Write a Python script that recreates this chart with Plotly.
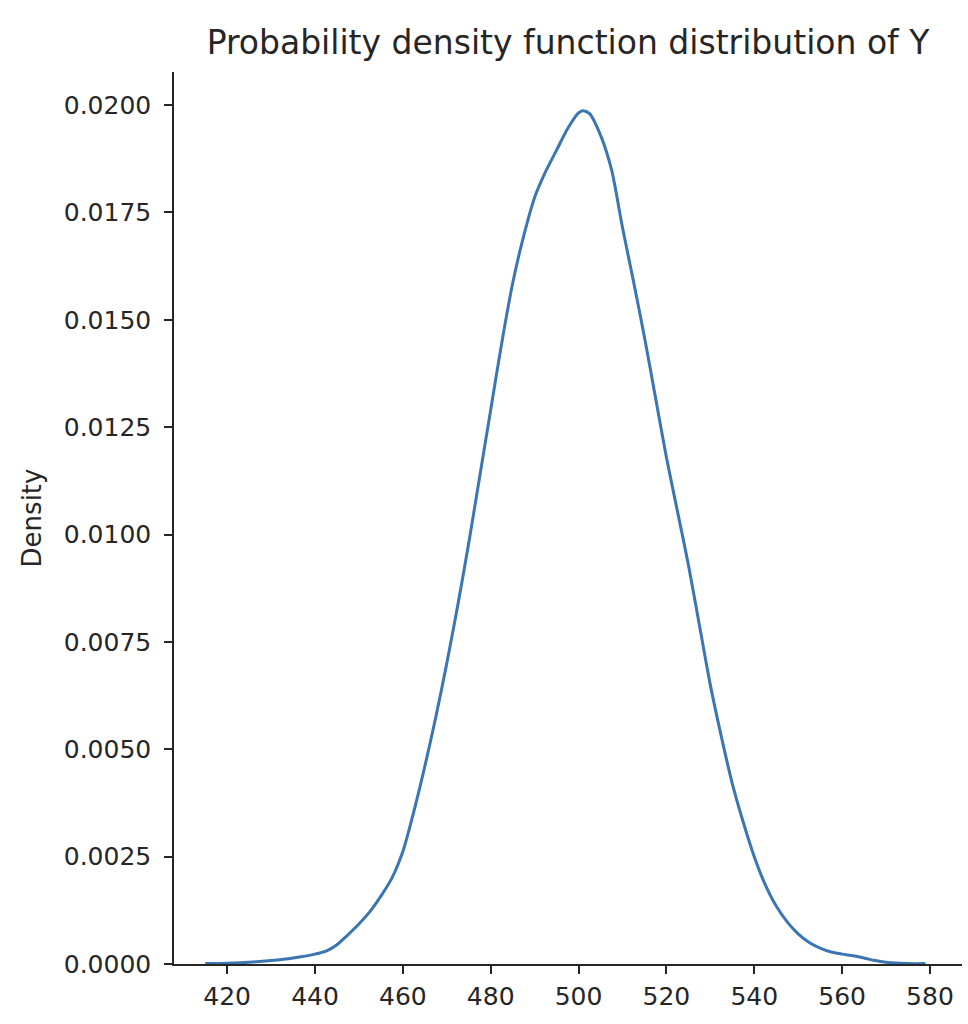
import plotly.graph_objects as go

# KDE curve values
x_vals = [415.0, 420.0, 425.0, 430.0, 435.0, 440.0, 442.5, 445.0, 447.5, 450.0, 452.5, 455.0,
          457.5, 460.0, 462.5, 465.0, 467.5, 470.0, 472.5, 475.0, 477.5, 480.0, 482.5,
          485.0, 487.5, 490.0, 492.5, 495.0, 497.5, 500.0, 501.0, 502.5, 505.0, 507.5,
          510.0, 512.5, 515.0, 517.5, 520.0, 522.5, 525.0, 527.5, 530.0, 532.5, 535.0,
          537.5, 540.0, 542.5, 545.0, 547.5, 550.0, 552.5, 555.0, 557.5, 560.0, 562.5,
          565.0, 567.5, 570.0, 575.0, 579.0]
y_vals = [0.00001, 0.00002, 0.00004, 0.00008, 0.00014, 0.00023, 0.00030, 0.00045, 0.00068,
          0.00093, 0.00122, 0.00158, 0.00200, 0.00262, 0.00355, 0.00460, 0.00575, 0.00700,
          0.00835, 0.00980, 0.01135, 0.01290, 0.01445, 0.01585, 0.01695, 0.01785, 0.01845,
          0.01895, 0.01945, 0.01982, 0.01987, 0.01980, 0.01930, 0.01850, 0.01715, 0.01590,
          0.01460, 0.01320, 0.01180, 0.01055, 0.00930, 0.00790, 0.00650, 0.00530, 0.00420,
          0.00330, 0.00250, 0.00185, 0.00135, 0.00098, 0.00070, 0.00050, 0.00037, 0.00028,
          0.00023, 0.00019, 0.00014, 0.00008, 0.00004, 0.00001, 0.00001]

x_ticks = [420, 440, 460, 480, 500, 520, 540, 560, 580]
y_ticks = [0.0, 0.0025, 0.0050, 0.0075, 0.0100, 0.0125, 0.0150, 0.0175, 0.0200]
y_tick_text = ["0.0000", "0.0025", "0.0050", "0.0075", "0.0100", "0.0125", "0.0150", "0.0175", "0.0200"]

title_text = "Probability density function distribution of Y"
y_title = "Density"

fig = go.Figure()
fig.add_trace(go.Scatter(x=x_vals, y=y_vals, mode="lines",
                         line=dict(color="#3b75b2", width=3, shape="spline", smoothing=0.8),
                         showlegend=False, hoverinfo="skip"))

font_family = "DejaVu Sans, sans-serif"
fig.update_layout(
    width=968, height=1024,
    margin=dict(l=174, r=6, t=72, b=60),
    paper_bgcolor="white", plot_bgcolor="white",
    font=dict(family=font_family, size=25, color="#262626"),
    title=dict(text=title_text, x=(174 + 962) / 2 / 968, xanchor="center",
               y=1 - 42 / 1024, yanchor="middle",
               font=dict(size=33, color="#262626", family=font_family)),
)
fig.update_xaxes(range=[407.9, 587.3], tickvals=x_ticks, ticks="outside", ticklen=8,
                 tickwidth=1.5, tickcolor="#262626", showline=True, linecolor="#262626",
                 linewidth=1.5, showgrid=False, zeroline=False, ticklabelstandoff=1,
                 tickfont=dict(size=25, color="#262626"))
fig.update_yaxes(range=[0, 0.02077], tickvals=y_ticks, ticktext=y_tick_text, ticks="outside",
                 ticklen=8, tickwidth=1.5, tickcolor="#262626", showline=True,
                 linecolor="#262626", linewidth=1.5, showgrid=False, zeroline=False,
                 ticklabelstandoff=8,
                 title=dict(text=y_title, font=dict(size=26, color="#262626"), standoff=15),
                 tickfont=dict(size=25, color="#262626"))

fig.write_html("out.html")
